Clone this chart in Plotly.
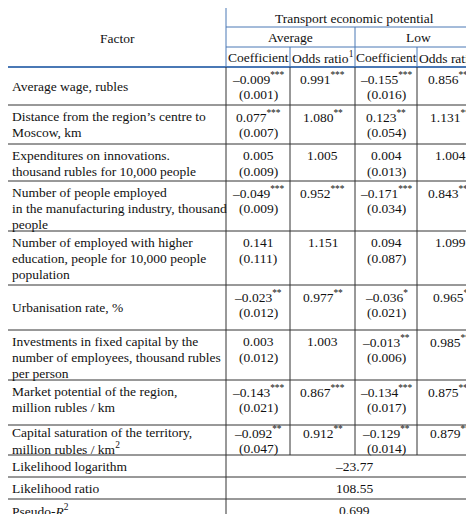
import plotly.graph_objects as go

factors = [
    "Average wage, rubles",
    "Distance from the region\u2019s centre to<br>Moscow, km",
    "Expenditures on innovations.<br>thousand rubles for 10,000 people",
    "Number of people employed<br>in the manufacturing industry, thousand<br>people",
    "Number of employed with higher<br>education, people for 10,000 people<br>population",
    "Urbanisation rate, %",
    "Investments in fixed capital by the<br>number of employees, thousand rubles<br>per person",
    "Market potential of the region,<br>million rubles / km",
    "Capital saturation of the territory,<br>million rubles / km<sup>2</sup>",
]
avg_coef = ["\u20130.009***", "0.077***", "0.005", "\u20130.049***", "0.141",
            "\u20130.023**", "0.003", "\u20130.143***", "\u20130.092**"]
avg_se = ["0.001", "0.007", "0.009", "0.009", "0.111", "0.012", "0.012", "0.021", "0.047"]
avg_or = ["0.991***", "1.080**", "1.005", "0.952***", "1.151", "0.977**", "1.003", "0.867***", "0.912**"]
low_coef = ["\u20130.155***", "0.123**", "0.004", "\u20130.171***", "0.094",
            "\u20130.036*", "\u20130.013**", "\u20130.134***", "\u20130.129**"]
low_se = ["0.016", "0.054", "0.013", "0.034", "0.087", "0.021", "0.006", "0.017", "0.014"]
low_or = ["0.856***", "1.131**", "1.004", "0.843***", "1.099", "0.965*", "0.985**", "0.875***", "0.879**"]
stat_labels = ["Likelihood logarithm", "Likelihood ratio", "Pseudo-<i>R</i><sup>2</sup>"]
stat_values = ["\u201323.77", "108.55", "0.699"]

# layout in pixels
W, H = 474, 514
row_edges = [59, 97, 136, 173, 223, 277, 322, 372, 417, 447, 469, 491, 514]
col_x = [0, 218, 282, 347, 409, 474]
FONT = dict(family="Liberation Serif", size=13.5, color="#111")
BLUE = "#4a78b5"
GREY = "#333"
PITCH = 16


def stars(s):
    # draw significance stars raised and small
    base = s.rstrip("*")
    n = len(s) - len(base)
    return base + (f"<sup>{'*' * n}</sup>" if n else "")


fig = go.Figure()
shapes, ann = [], []


def line(x0, y0, x1, y1, color, w=1):
    shapes.append(dict(type="line", x0=x0, y0=y0, x1=x1, y1=y1, line=dict(color=color, width=w)))


def text(x, y, t, xanchor="center"):
    ann.append(dict(x=x, y=y, text=t, showarrow=False, xanchor=xanchor, yanchor="middle",
                    font=FONT, borderpad=0))


# header
line(218, 19, 474, 19, BLUE)
line(218, 39, 474, 39, BLUE)
line(0, 59, 474, 59, BLUE, 2)
line(218, 0, 218, 59, BLUE)
line(347, 19, 347, 59, BLUE)
line(282, 39, 282, 59, BLUE)
line(409, 39, 409, 59, BLUE)
text(109, 30, "Factor")
text(346, 10, "Transport economic potential")
text(282, 29, "Average")
text(410, 29, "Low")
for c, lab in enumerate(["Coefficient", "Odds ratio<sup>1</sup>", "Coefficient", "Odds ratio<sup>1</sup>"]):
    cx = (col_x[c + 1] + col_x[c + 2]) / 2 if c < 3 else 442
    text(cx, 49, lab)

# body rows
for i, f in enumerate(factors):
    top, bot = row_edges[i], row_edges[i + 1]
    off = 7 if bot - top < 34 else 11
    line(0, bot, 474, bot, GREY)
    parts = f.split("<br>")
    if len(parts) == 1:
        text(3, (top + bot) / 2, f, "left")
    else:
        for k, p in enumerate(parts):
            text(3, top + off + k * PITCH, p, "left")
    vals = [(avg_coef[i], avg_se[i]), (avg_or[i], None), (low_coef[i], low_se[i]), (low_or[i], None)]
    for c, (v, se) in enumerate(vals):
        cx = (col_x[c + 1] + col_x[c + 2]) / 2 if c < 3 else 442
        text(cx, top + off, stars(v))
        if se:
            text(cx, top + off + PITCH, f"({se})")
for x in col_x[1:5]:
    line(x, 59, x, row_edges[9], GREY)

# statistics rows
for j, (lab, val) in enumerate(zip(stat_labels, stat_values)):
    top, bot = row_edges[9 + j], row_edges[10 + j]
    if j < 2:
        line(0, bot, 474, bot, GREY)
    text(3, (top + bot) / 2, lab, "left")
    text(346, (top + bot) / 2, val)
line(218, row_edges[9], 218, 514, GREY)

fig.update_layout(
    width=W, height=H, margin=dict(l=0, r=0, t=0, b=0),
    paper_bgcolor="white", plot_bgcolor="white",
    xaxis=dict(range=[0, W], visible=False, fixedrange=True),
    yaxis=dict(range=[H, 0], visible=False, fixedrange=True),
    shapes=shapes, annotations=ann, showlegend=False,
)
fig.write_html("out.html", config={"displayModeBar": False})
